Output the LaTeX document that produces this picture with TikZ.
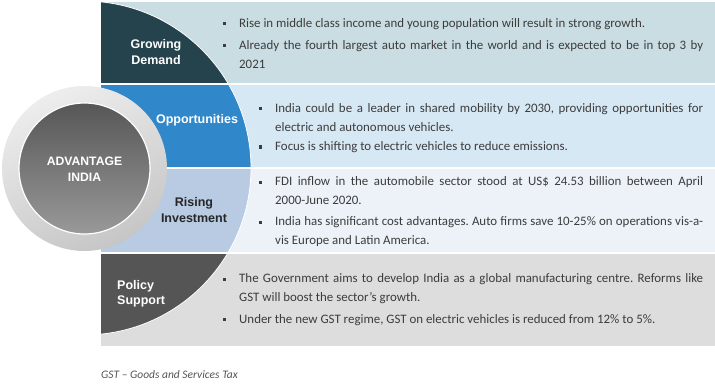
\documentclass[tikz,border=0pt]{standalone}
\usepackage{fontspec}
\setmainfont{Carlito}
\newfontfamily\carlito{Carlito}
\newfontfamily\arialf{Liberation Sans}
\definecolor{bandAdark}{HTML}{25434D}
\definecolor{bandAlight}{HTML}{CADDE2}
\definecolor{bandBdark}{HTML}{3088CA}
\definecolor{bandBlight}{HTML}{D7E8F5}
\definecolor{bandCdark}{HTML}{B8CBE2}
\definecolor{bandClight}{HTML}{EDF2F9}
\definecolor{bandDdark}{HTML}{555555}
\definecolor{bandDlight}{HTML}{DDDDDD}
\definecolor{txtcol}{HTML}{3C3C3C}
\definecolor{notecol}{HTML}{555555}
\frenchspacing
\tikzset{
  bodytext/.style={font=\carlito\fontsize{12.9}{19}\selectfont\frenchspacing, text=txtcol, inner sep=0pt, align=justify, anchor=base west},
  widetext/.style={bodytext, text width=464pt},
  narrowtext/.style={bodytext, text width=428pt},
  headlabel/.style={font=\arialf\bfseries\fontsize{12.5}{15.5}\selectfont, inner sep=0pt, align=center},
}
\newcommand{\bul}{\leavevmode\llap{\textcolor{txtcol}{\rule[2.3pt]{3.2pt}{3.2pt}}\hspace{12.8pt}}}
\begin{document}
\begin{tikzpicture}[x=1pt,y=-1pt]
\useasboundingbox (0,0) rectangle (715,390);
% bands, light parts
\fill[bandAlight] (101,2) rectangle (715,84);
\fill[bandBlight] (101,84) rectangle (715,168);
\fill[bandClight] (101,168) rectangle (715,253);
\fill[bandDlight] (101,253) rectangle (715,346);
% dark parts inside the big circle
\begin{scope}
  \clip (84,168) circle (167pt);
  \fill[bandAdark] (101,2) rectangle (715,84);
  \fill[bandBdark] (101,84) rectangle (715,168);
  \fill[bandCdark] (101,168) rectangle (715,253);
  \fill[bandDdark] (101,253) rectangle (715,346);
\end{scope}
\begin{scope}
  \clip (101,2) rectangle (715,346);
  \draw[white, line width=0.8pt] (84,168) circle (167pt);
\end{scope}
% white separators
\draw[white, line width=1.2pt] (101,84) -- (715,84);
\draw[white, line width=1.2pt] (101,168) -- (715,168);
\draw[white, line width=1.2pt] (101,253) -- (715,253);
% central ring
\node[circle, minimum size=165pt, inner sep=0pt, top color=gray!14, bottom color=gray!45, shading angle=25] (ring) at (84.5,168.5) {};
\node[circle, minimum size=131pt, inner sep=0pt, top color=black!66, bottom color=black!40, draw=white, line width=1.2pt] (core) at (84.5,168.5) {};
\node[headlabel, text=white, font=\arialf\bfseries\fontsize{12.2}{16}\selectfont] (adv) at (84.5,169) {ADVANTAGE\\INDIA};
% labels
\node[headlabel, text=white] (lgrow) at (156,52) {Growing\\Demand};
\node[headlabel, text=white] (lopp) at (197,120.5) {Opportunities};
\node[headlabel, text=black!85] (lrise) at (194,210) {Rising\\Investment};
\node[headlabel, text=white, align=left, anchor=west] (lpol) at (117,294) {Policy\\Support};
% texts
\node[widetext] (t1) at (239,27.3) {\bul Rise in middle class income and young population will result in strong growth.};
\node[widetext] (t2) at (239,49.3) {\bul Already the fourth largest auto market in the world and is expected to be in top 3 by\linebreak 2021};
\node[narrowtext] (t3) at (275,112.3) {\bul India could be a leader in shared mobility by 2030, providing opportunities for\linebreak electric and autonomous vehicles.};
\node[narrowtext] (t4) at (275,151) {\bul Focus is shifting to electric vehicles to reduce emissions.};
\node[narrowtext] (t5) at (275,186) {\bul FDI inflow in the automobile sector stood at US\$ 24.53 billion between April\linebreak 2000-June 2020.};
\node[narrowtext] (t6) at (275,226) {\bul India has significant cost advantages. Auto firms save 10-25\% on operations vis-a-\linebreak vis Europe and Latin America.};
\node[widetext] (t7) at (239,283) {\bul The Government aims to develop India as a global manufacturing centre. Reforms like\linebreak GST will boost the sector’s growth.};
\node[widetext] (t8) at (239,323) {\bul Under the new GST regime, GST on electric vehicles is reduced from 12\% to 5\%.};
% footnote
\node[font=\carlito\itshape\fontsize{11.5}{13}\selectfont, text=notecol, inner sep=0pt, anchor=base west] (note) at (101,378.3) {GST – Goods and Services Tax};
\end{tikzpicture}
\end{document}
